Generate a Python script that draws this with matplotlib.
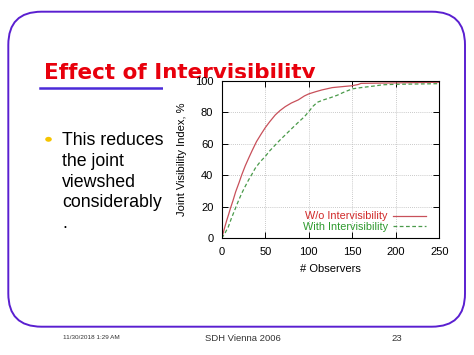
import matplotlib
matplotlib.use("Agg")
import matplotlib.pyplot as plt
from matplotlib.patches import FancyBboxPatch, Rectangle, Circle
from matplotlib.lines import Line2D

plt.rcParams['font.family'] = ['Liberation Sans', 'DejaVu Sans']

# ---- data ----
obs_wo = [0, 2, 4, 6, 8, 10, 13, 16, 20, 23, 27, 31, 35, 40, 45, 50, 55, 61.5, 67, 73, 80,
          88, 95, 100, 108, 115, 127, 140, 150, 157, 160, 200, 250]
vis_wo = [0, 4, 8, 11.8, 15.3, 19, 24, 29.5, 35.5, 40.3, 46, 51, 55.8, 61.5, 66, 70.3, 74,
          78.4, 81.2, 83.7, 86, 88, 90.5, 91.8, 93.2, 94.3, 95.8, 96.5, 97.0, 97.8, 98.5, 98.8, 99.2]
obs_w = [0, 4, 7.7, 11, 15, 19, 23, 27, 30.8, 35, 38.5, 44, 50, 55, 61.5, 67, 73, 80, 88.5,
         95, 100, 105, 110, 117, 125, 133, 140, 150, 160, 175, 185, 200, 250]
vis_w = [0, 3.5, 7.4, 12.5, 18, 23.5, 28.6, 33, 37, 41, 44.5, 48.5, 52, 55.5, 59.3, 62.5,
         65.7, 69.5, 74, 77.3, 80.5, 84, 86.5, 88, 89.4, 91, 92.8, 95, 95.8, 96.8, 97.6, 97.9, 98.3]
xticks = [0, 50, 100, 150, 200, 250]
yticks = [0, 20, 40, 60, 80, 100]
labels = ["W/o Intervisibility", "With Intervisibility"]
title = "Effect of Intervisibility"
bullet_lines = ["This reduces", "the joint", "viewshed", "considerably", "."]
footer_date = "11/30/2018 1:29 AM"
footer_mid = "SDH Vienna 2006"
footer_page = "23"

W, H = 474, 355
fig = plt.figure(figsize=(W / 100, H / 100), dpi=100)
fig.patch.set_facecolor('white')

def fx(x):
    return x / W

def fy(y):
    return 1 - y / H

# slide border
border = FancyBboxPatch((fx(8.3), fy(326.7)), fx(465 - 8.3), (326.7 - 11.7) / H,
                        boxstyle="round,pad=0,rounding_size=0.07",
                        transform=fig.transFigure, fill=False,
                        edgecolor='#5a1fd0', linewidth=1.4,
                        mutation_aspect=W / H)
fig.patches.append(border)

# title
fig.text(fx(44), fy(79), title, color='#e8000c', fontsize=15.5, fontweight='bold',
         family=['DejaVu Sans'], ha='left', va='baseline', zorder=1)
fig.add_artist(Line2D([fx(39.5), fx(170)], [fy(88.3), fy(88.3)], color='#4b2ad8',
                      linewidth=1.8, transform=fig.transFigure))

# white image background covering title bottom
fig.patches.append(Rectangle((fx(163), fy(290)), fx(290 - 3), (290 - 77.5) / H,
                             transform=fig.transFigure, facecolor='white',
                             edgecolor='none', zorder=2))

# bullet
fig.patches.append(Circle((fx(48.5), fy(139.3)), 3.3 / W, transform=fig.transFigure,
                          facecolor='#f5c400', edgecolor='none'))
base_y = [145, 165.8, 186.6, 207.4, 228.2]
for txt, by in zip(bullet_lines, base_y):
    fig.text(fx(62), fy(by), txt, fontsize=12.8, color='black', ha='left', va='baseline')

# footer
fig.text(fx(63), fy(339), footer_date, fontsize=4.6, color='#333333', ha='left', va='baseline')
fig.text(fx(243), fy(341), footer_mid, fontsize=6.8, color='#333333', ha='center', va='baseline')
fig.text(fx(397), fy(341), footer_page, fontsize=6.8, color='#333333', ha='center', va='baseline')

# chart
left, right, top, bottom = 221.7, 439.3, 81, 238.3
ax = fig.add_axes([fx(left), fy(bottom), fx(right - left), (bottom - top) / H], zorder=3)
ax.set_facecolor('white')
l1, = ax.plot(obs_wo, vis_wo, color='#c8505a', linewidth=0.9, label=labels[0])
l2, = ax.plot(obs_w, vis_w, color='#4a9a4a', linewidth=0.9, linestyle=(0, (3, 2)), label=labels[1])
ax.set_xlim(0, 250)
ax.set_ylim(0, 100)
ax.set_xticks(xticks)
ax.set_yticks(yticks)
ax.tick_params(direction='in', top=True, right=True, length=4, width=0.7,
               labelsize=8, pad=6, colors='black')
ax.grid(True, color='#b8b8b8', linestyle=(0, (1, 1.5)), linewidth=0.6)
for s in ax.spines.values():
    s.set_linewidth(0.8)
ax.set_xlabel("# Observers", fontsize=8, labelpad=5)
ax.set_ylabel("Joint Visibility Index, %", fontsize=8, labelpad=6)

ax.legend(handles=[l1, l2], loc='lower right', frameon=False, markerfirst=False,
          fontsize=7.8, handlelength=3.0, handletextpad=0.5, labelspacing=0.05,
          borderpad=0, borderaxespad=0,
          bbox_to_anchor=((425.7 - left) / (right - left), (bottom - 232) / (bottom - top)),
          labelcolor=['#d02828', '#2e9a2e'])

fig.savefig("out.png", dpi=100, facecolor='white')
